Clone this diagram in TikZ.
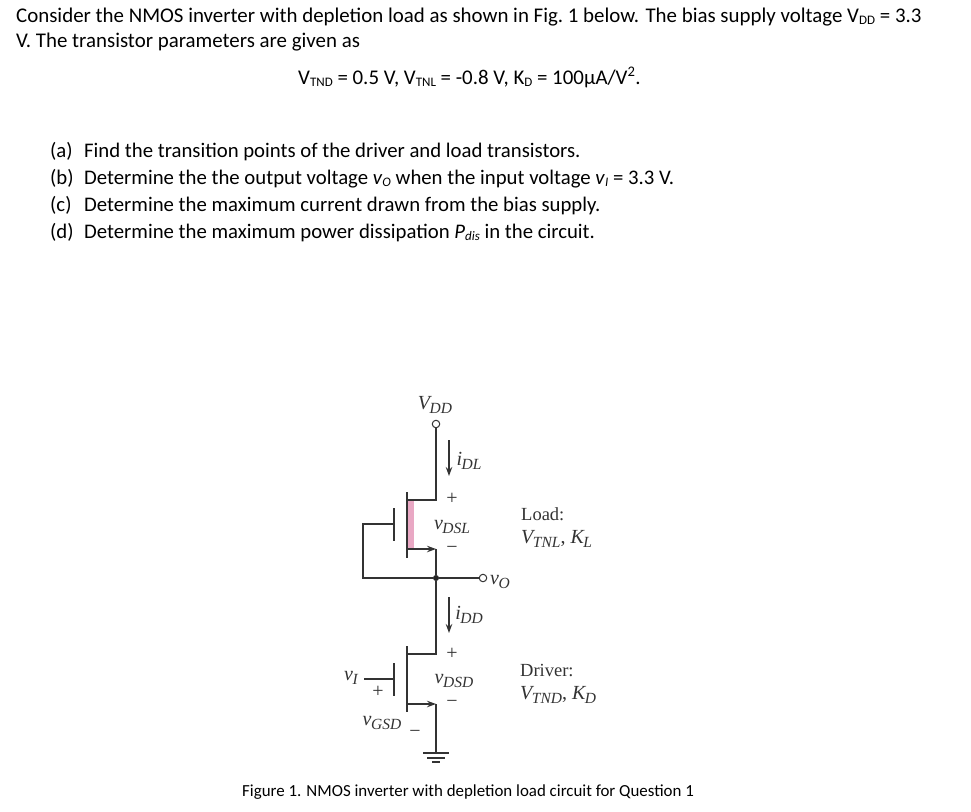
\documentclass[tikz,border=0pt]{standalone}
\usepackage{fontspec}
\setmainfont{Carlito}
\newfontfamily\circfont{Liberation Serif}
\usetikzlibrary{arrows.meta}
\definecolor{chanpink}{HTML}{E9A8C4}
\tikzset{
  txt/.style={anchor=base west,inner sep=0pt,font=\fontsize{20.9}{25}\selectfont,text=black},
  txtb/.style={txt,font=\fontsize{20.75}{25}\selectfont},
  captxt/.style={anchor=base west,inner sep=0pt,font=\fontsize{16.9}{20}\selectfont,text=black},
  lbl/.style={inner sep=0pt,font=\circfont\fontsize{20}{24}\selectfont,text=black!80},
  lblw/.style={lbl,anchor=base west},
  wordl/.style={lblw,font=\circfont\fontsize{18.5}{22}\selectfont},
  wire/.style={line width=1.1pt,draw=black!80},
  bar/.style={line width=1.6pt,draw=black!80},
  term/.style={circle,draw=black!80,line width=1pt,fill=white,inner sep=0pt,minimum size=7.5pt},
  dot/.style={circle,fill=black!85,inner sep=0pt,minimum size=6pt},
  flow/.style={wire,-{Stealth[length=9pt,width=6.5pt]}},
}
\newcommand{\lowtxt}[1]{\raisebox{-0.1em}{\fontsize{13}{15}\selectfont #1}}
\newcommand{\circv}[2]{\textit{#1\kern-0.5pt\raisebox{-0.2em}{\fontsize{15.5}{18}\selectfont #2}}}
\begin{document}
\begin{tikzpicture}[x=1pt,y=-1pt]
  \useasboundingbox (0,0) rectangle (971,811);
  % question text
  \node[txt] (line1) at (16,22.5) {Consider the NMOS inverter with depletion load as shown in Fig.~1 below. The bias supply voltage V\lowtxt{DD} = 3.3};
  \node[txt] (line2) at (16,47.5) {V. The transistor parameters are given as};
  \node[txt] (params) at (298,84.5) {V\lowtxt{TND} = 0.5 V, V\lowtxt{TNL} = -0.8 V, K\lowtxt{D} = 100µA/V\textsuperscript{2}.};
  \node[txtb] (parta) at (50,157.5) {(a)};
  \node[txtb] (partb) at (50,184.5) {(b)};
  \node[txtb] (partc) at (50,211.5) {(c)};
  \node[txtb] (partd) at (50,238.5) {(d)};
  \node[txtb] (texta) at (84,157.5) {Find the transition points of the driver and load transistors.};
  \node[txtb] (textb) at (84,184.5) {Determine the the output voltage \textit{v}\lowtxt{\textit{O}} when the input voltage \textit{v}\lowtxt{\textit{I}} = 3.3 V.};
  \node[txtb] (textc) at (84,211.5) {Determine the maximum current drawn from the bias supply.};
  \node[txtb] (textd) at (84,238.5) {Determine the maximum power dissipation \textit{P}\lowtxt{\textit{dis}} in the circuit.};
  \node[captxt] (caption) at (242,796) {Figure 1. NMOS inverter with depletion load circuit for Question 1};
  % load transistor
  \fill[fill=chanpink] (408,500) rectangle (414,549);
  \coordinate (ld) at (436,500);
  \coordinate (ldg) at (407,500);
  \coordinate (ls) at (436,549);
  \coordinate (lsg) at (407,549);
  \coordinate (lbt) at (407,492);
  \coordinate (lbb) at (407,558);
  \coordinate (lgt) at (394,508);
  \coordinate (lgb) at (394,541);
  \coordinate (lg) at (394,524);
  \coordinate (lgw) at (363,524);
  \coordinate (lgs) at (363,578);
  % driver transistor
  \coordinate (dd) at (436,654);
  \coordinate (ddg) at (407,654);
  \coordinate (ds) at (436,704);
  \coordinate (dsg) at (407,704);
  \coordinate (dbt) at (407,646);
  \coordinate (dbb) at (407,712);
  \coordinate (dgt) at (394,663);
  \coordinate (dgb) at (394,696);
  \coordinate (dg) at (394,679);
  \coordinate (dgw) at (364,679);
  % ground
  \coordinate (g1l) at (423,753);
  \coordinate (g1r) at (449,753);
  \coordinate (gnd) at (436,753);
  \coordinate (g2l) at (427,758);
  \coordinate (g2r) at (445,758);
  \coordinate (g3l) at (432,762);
  \coordinate (g3r) at (440,762);
  % current arrows
  \coordinate (ia1) at (449,440);
  \coordinate (ia2) at (449,476);
  \coordinate (ib1) at (449,597);
  \coordinate (ib2) at (449,633);
  \node[term] (vdd) at (436,424) {};
  \node[term] (vout) at (483,578) {};
  \node[dot] (mid) at (436,578) {};
  \begin{scope}[wire]
    \draw (vdd) -- (ld) -- (ldg);
    \draw (ls) -- (mid);
    \draw (lg) -- (lgw) -- (lgs) -- (mid) -- (vout);
    \draw (mid) -- (dd) -- (ddg);
    \draw (dg) -- (dgw);
    \draw (ds) -- (gnd);
    \draw (g1l) -- (g1r);
    \draw (g2l) -- (g2r);
    \draw (g3l) -- (g3r);
  \end{scope}
  \begin{scope}[bar]
    \draw (lbt) -- (lbb);
    \draw (lgt) -- (lgb);
    \draw (dbt) -- (dbb);
    \draw (dgt) -- (dgb);
  \end{scope}
  \draw[flow] (lsg) -- (ls);
  \draw[flow] (dsg) -- (ds);
  \draw[flow] (ia1) -- (ia2);
  \draw[flow] (ib1) -- (ib2);
  % labels
  \node[lbl] (vddl) at (435,405) {\circv{V}{DD}};
  \node[lbl] (idl) at (469,461) {\circv{i}{DL}};
  \node[lbl] (pl1) at (452,499) {+};
  \node[lbl] (vdsl) at (452,527) {\circv{v}{DSL}};
  \node[lbl] (mi1) at (452,550) {−};
  \node[wordl] (loadl) at (521,520) {Load:};
  \node[lblw] (loadv) at (521,543) {\circv{V}{TNL}, \circv{K}{L}};
  \node[lbl] (vol) at (500,582) {\circv{v}{O}};
  \node[lbl] (idd) at (469,615) {\circv{i}{DD}};
  \node[lbl] (pl2) at (452,654) {+};
  \node[lbl] (vdsd) at (454,681) {\circv{v}{DSD}};
  \node[lbl] (mi2) at (452,704) {−};
  \node[wordl] (drvl) at (520,676) {Driver:};
  \node[lblw] (drvv) at (520,699) {\circv{V}{TND}, \circv{K}{D}};
  \node[lbl] (vil) at (351,678) {\circv{v}{I}};
  \node[lbl] (pl3) at (378,692) {+};
  \node[lbl] (vgsd) at (382,723) {\circv{v}{GSD}};
  \node[lbl] (mi3) at (415,734) {−};
\end{tikzpicture}
\end{document}
